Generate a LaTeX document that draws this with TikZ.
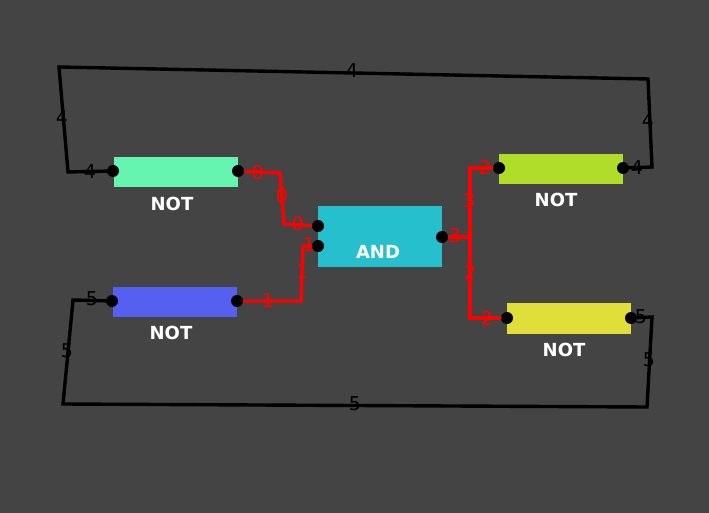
\documentclass[tikz,border=0pt]{standalone}
\usepackage{fontspec}
\setmainfont{DejaVu Sans}
\begin{document}
\begin{tikzpicture}[x=1pt,y=-1pt,
  gate/.style={draw=none,minimum width=124pt,inner sep=0pt},
  gl/.style={text=white,font=\bfseries\fontsize{18}{18}\selectfont},
  pin/.style={circle,fill=black,minimum size=12pt,inner sep=0pt},
  wr/.style={red,line width=3.4pt},
  wb/.style={black,line width=3.4pt},
  lr/.style={text=red,font=\fontsize{19}{19}\selectfont,inner sep=0pt},
  lb/.style={text=black,font=\fontsize{19}{19}\selectfont,inner sep=0pt}]
\fill[fill={rgb,255:red,68;green,68;blue,68}] (0,0) rectangle (709,513);
\useasboundingbox (0,0) rectangle (709,513);
% gates
\node[gate,minimum height=30pt,fill={rgb,255:red,102;green,245;blue,176}] (n1) at (176,172) {};
\node[gl] (n1l) at (172,204) {NOT};
\node[gate,minimum height=30pt,fill={rgb,255:red,85;green,96;blue,240}] (n2) at (174.5,302) {};
\node[gl] (n2l) at (171,333) {NOT};
\node[gate,minimum height=61pt,fill={rgb,255:red,37;green,191;blue,206}] (and) at (380,236.5) {};
\node[gl] (andl) at (378,252) {AND};
\node[gate,minimum height=30pt,fill={rgb,255:red,176;green,220;blue,42}] (n3) at (561,169) {};
\node[gl] (n3l) at (556,200) {NOT};
\node[gate,minimum height=31pt,fill={rgb,255:red,224;green,222;blue,58}] (n4) at (569,318.5) {};
\node[gl] (n4l) at (564,350) {NOT};
% pins coordinates
\coordinate (p1i) at (113,171); \coordinate (p1o) at (238,171);
\coordinate (p2i) at (112,301); \coordinate (p2o) at (237,301);
\coordinate (a0) at (318,226); \coordinate (a1) at (318,246); \coordinate (ao) at (442,237);
\coordinate (p3i) at (499,168); \coordinate (p3o) at (623,168);
\coordinate (p4i) at (507,318); \coordinate (p4o) at (631,318);
% wires
\draw[wr] (p1o) -- (280,173) -- (284,224) -- (a0);
\draw[wr] (p2o) -- (301,301) -- (303,246) -- (a1);
\draw[wr] (ao) -- (470,237) -- (470,168) -- (p3i);
\draw[wr] (ao) -- (470,237) -- (470,318) -- (p4i);
\draw[wb] (p1i) -- (68,172) -- (59,67) -- (648,79) -- (652,167) -- (p3o);
\draw[wb] (p2i) -- (73,300) -- (63,404) -- (647,407) -- (652,317) -- (p4o);
% labels
\node[lr] at (258,173) {0}; \node[lr] at (282,196) {0}; \node[lr] at (298,224) {0};
\node[lr] at (268,301) {1}; \node[lr] at (302,272) {1}; \node[lr] at (309,245) {1};
\node[lr] at (485,167) {2}; \node[lr] at (469,201) {3}; \node[lr] at (455,236) {3};
\node[lr] at (470,272) {2}; \node[lr] at (487,318) {2};
\node[lb] at (90,172) {4}; \node[lb] at (62,118) {4}; \node[lb] at (352,71) {4};
\node[lb] at (648,121) {4}; \node[lb] at (637,168) {4};
\node[lb] at (92,299) {5}; \node[lb] at (67,351) {5}; \node[lb] at (355,404) {5};
\node[lb] at (649,360) {5}; \node[lb] at (641,317) {5};
% pins
\foreach \p in {p1i,p1o,p2i,p2o,a0,a1,ao,p3i,p3o,p4i,p4o} \node[pin] at (\p) {};
\end{tikzpicture}
\end{document}
